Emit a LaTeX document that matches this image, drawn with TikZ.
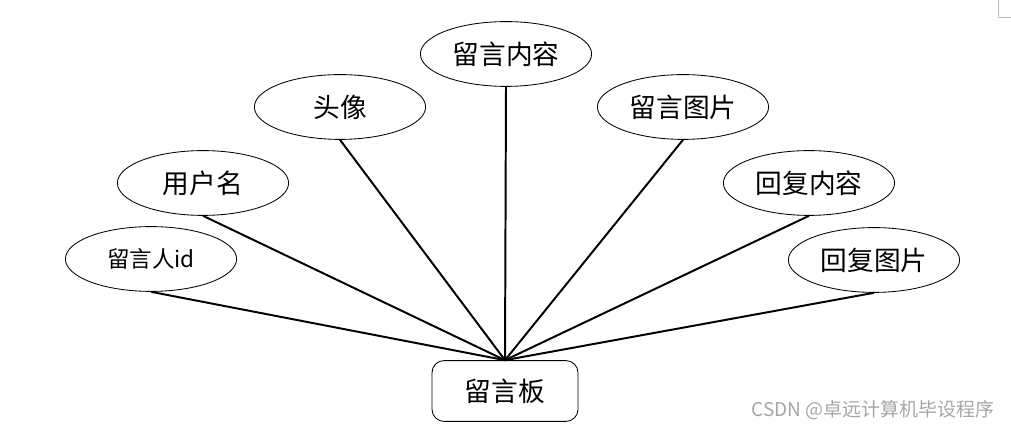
\documentclass[tikz,border=0pt]{standalone}
\usepackage{fontspec}
\setmainfont{Noto Sans CJK SC}
\usepackage{tikz}
\usetikzlibrary{shapes.geometric, positioning}

\begin{document}
\begin{tikzpicture}[
    attr/.style={draw, ellipse, line width=0.6pt, minimum width=4.28cm, minimum height=1.62cm, inner sep=0pt, font=\fontsize{19}{22}\selectfont},
    entity/.style={draw, rounded corners=0.3cm, line width=0.6pt, minimum width=3.65cm, minimum height=1.52cm, font=\fontsize{19}{22}\selectfont},
    link/.style={line width=1.4pt}
]
    \useasboundingbox (0,0) rectangle (25.275,10.775);
    \node[entity] (board) at (12.625,1.0) {留言板};
    \node[attr, font=\fontsize{16}{19}\selectfont] (msgid) at (3.775,4.3) {留言人id};
    \node[attr] (uname) at (5.075,6.2) {用户名};
    \node[attr] (avatar) at (8.5,8.1) {头像};
    \node[attr] (content) at (12.65,9.425) {留言内容};
    \node[attr] (msgpic) at (17.075,8.1) {留言图片};
    \node[attr] (replytext) at (20.225,6.2) {回复内容};
    \node[attr] (replypic) at (21.85,4.275) {回复图片};

    \foreach \a in {msgid, uname, avatar, content, msgpic, replytext, replypic}
        \draw[link] (\a.south) -- (board.north);

    % watermark and page corner
    \node[text=gray!70, font=\fontsize{13.5}{16}\selectfont] (mark) at (21.825,0.525) {CSDN @卓远计算机毕设程序};
    \draw[gray!50, line width=0.5pt] (24.95,10.775) -- (24.95,10.35) -- (25.275,10.35);
\end{tikzpicture}
\end{document}
